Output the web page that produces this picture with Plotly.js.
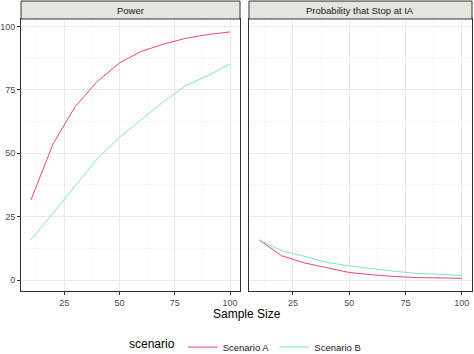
<!DOCTYPE html>
<html>
<head>
<meta charset="utf-8">
<script src="https://cdn.plot.ly/plotly-3.0.1.min.js"></script>
<style>html,body{margin:0;padding:0;background:#fff}#chart{width:474px;height:354px}</style>
</head>
<body>
<div id="chart"></div>
<script>
// Data
const sampleSize = [10, 20, 30, 40, 50, 60, 70, 80, 90, 100];
const powerA = [31.6, 53.7, 68.4, 78.3, 85.6, 90.2, 93.0, 95.3, 96.8, 97.8];
const powerB = [15.8, 26.5, 37.3, 47.8, 56.2, 63.4, 70.4, 76.6, 80.6, 85.2];
const stopA = [15.8, 9.6, 6.8, 4.8, 3.0, 2.1, 1.4, 1.0, 0.8, 0.7];
const stopB = [15.8, 11.6, 9.4, 7.0, 5.6, 4.5, 3.5, 2.6, 2.3, 1.7];
const scenarioNames = ["Scenario A", "Scenario B"];
const panelTitles = ["Power", "Probability that Stop at IA"];
const colors = ["#E8457E", "#7DE6BE"];

const traces = [
  {x: sampleSize, y: powerA, xaxis: 'x', yaxis: 'y', name: scenarioNames[0], legendgroup: 'A', mode: 'lines', line: {color: colors[0], width: 1}},
  {x: sampleSize, y: powerB, xaxis: 'x', yaxis: 'y', name: scenarioNames[1], legendgroup: 'B', mode: 'lines', line: {color: colors[1], width: 1}},
  {x: sampleSize, y: stopA, xaxis: 'x2', yaxis: 'y2', name: scenarioNames[0], legendgroup: 'A', showlegend: false, mode: 'lines', line: {color: colors[0], width: 1}},
  {x: sampleSize, y: stopB, xaxis: 'x2', yaxis: 'y2', name: scenarioNames[1], legendgroup: 'B', showlegend: false, mode: 'lines', line: {color: colors[1], width: 1}}
];

const dom1 = [0, 0.4856];
const dom2 = [0.5055, 1];
const stripTop = 1.066;
const font = 'Liberation Sans, Arial, sans-serif';

const xcommon = {
  range: [5.5, 104.5], tick0: 0, dtick: 25, ticks: 'outside', ticklen: 3, tickcolor: '#333333',
  showline: true, mirror: true, linecolor: '#333333', linewidth: 1,
  showgrid: true, gridcolor: '#ebebeb', gridwidth: 1, zeroline: false,
  minor: {dtick: 12.5, tick0: 0, showgrid: true, gridcolor: '#f4f4f4', gridwidth: 0.6},
  tickfont: {family: font, size: 9, color: '#4d4d4d'}
};
const ycommon = {
  range: [-4.3, 102.9], tick0: 0, dtick: 25,
  showline: true, mirror: true, linecolor: '#333333', linewidth: 1,
  showgrid: true, gridcolor: '#ebebeb', gridwidth: 1, zeroline: false,
  minor: {dtick: 12.5, tick0: 0, showgrid: true, gridcolor: '#f4f4f4', gridwidth: 0.6},
  tickfont: {family: font, size: 9, color: '#4d4d4d'}
};

const layout = {
  width: 474, height: 354,
  margin: {l: 21, r: 2, t: 19, b: 63, autoexpand: false},
  paper_bgcolor: '#ffffff', plot_bgcolor: '#ffffff',
  font: {family: font},
  xaxis: Object.assign({}, xcommon, {domain: dom1, anchor: 'y'}),
  xaxis2: Object.assign({}, xcommon, {domain: dom2, anchor: 'y2'}),
  yaxis: Object.assign({}, ycommon, {anchor: 'x', ticks: 'outside', ticklen: 3, tickcolor: '#333333'}),
  yaxis2: Object.assign({}, ycommon, {anchor: 'x2', matches: 'y', showticklabels: false, ticks: ''}),
  shapes: [
    {type: 'rect', xref: 'paper', yref: 'paper', x0: dom1[0], x1: dom1[1], y0: 1, y1: stripTop, fillcolor: '#e5e5e0', line: {color: '#333333', width: 1}},
    {type: 'rect', xref: 'paper', yref: 'paper', x0: dom2[0], x1: dom2[1], y0: 1, y1: stripTop, fillcolor: '#e5e5e0', line: {color: '#333333', width: 1}}
  ],
  annotations: [
    {text: panelTitles[0], xref: 'paper', yref: 'paper', x: (dom1[0] + dom1[1]) / 2, y: (1 + stripTop) / 2, xanchor: 'center', yanchor: 'middle', showarrow: false, font: {family: font, size: 9.5, color: '#1a1a1a'}},
    {text: panelTitles[1], xref: 'paper', yref: 'paper', x: (dom2[0] + dom2[1]) / 2, y: (1 + stripTop) / 2, xanchor: 'center', yanchor: 'middle', showarrow: false, font: {family: font, size: 9.5, color: '#1a1a1a'}},
    {text: 'Sample Size', xref: 'paper', yref: 'paper', x: 0.5, y: -0.085, xanchor: 'center', yanchor: 'middle', showarrow: false, font: {family: font, size: 12, color: '#000000'}}
  ],
  showlegend: true,
  legend: {
    orientation: 'h', x: 0.5, xanchor: 'center', y: -0.206, yanchor: 'middle',
    title: {text: 'scenario', side: 'left', font: {family: font, size: 12, color: '#000000'}},
    font: {family: font, size: 9.5, color: '#1a1a1a'},
    itemwidth: 30, tracegroupgap: 0, bgcolor: 'rgba(0,0,0,0)'
  }
};

Plotly.newPlot('chart', traces, layout, {displayModeBar: false, staticPlot: true});
</script>
</body>
</html>
